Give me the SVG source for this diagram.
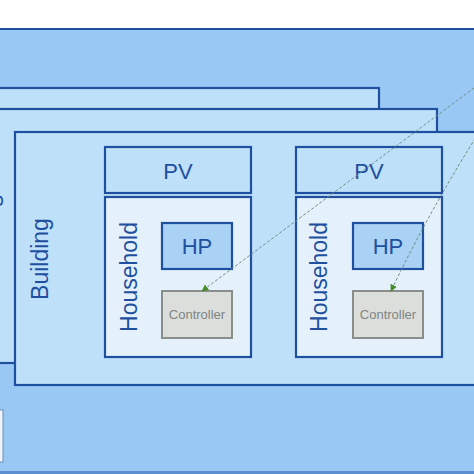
<svg xmlns="http://www.w3.org/2000/svg" width="474" height="474" viewBox="0 0 474 474">
<defs>
<style>
.frame{stroke:#1f4f9f;stroke-width:2.2}
.lay{fill:#bee0f8}
.hh{fill:#e4f1fb}
.hp{fill:#a9d2f5}
.ctl{fill:#dcdedc;stroke:#8a8e8a;stroke-width:2}
.lbl{font-family:"Liberation Sans",Arial,sans-serif;fill:#1f4f9f}
.ctxt{font-family:"Liberation Sans",Arial,sans-serif;fill:#7f8583;font-size:13px;text-anchor:middle}
.link{fill:none;stroke:#6f9080;stroke-width:1;stroke-dasharray:3 2}
</style>
<marker id="ah" viewBox="0 0 10 10" refX="9" refY="5" markerWidth="7" markerHeight="7" orient="auto" markerUnits="userSpaceOnUse">
<path d="M0,0 L10,5 L0,10 Z" fill="#4a8a2a"/>
</marker>
</defs>
<rect x="0" y="0" width="474" height="474" fill="#ffffff"/>
<g id="outer">
<rect x="-10" y="29" width="500" height="443" fill="#9ac8f5" stroke="#1f4f9f" stroke-width="2"/>
<line x1="0" y1="472.5" x2="474" y2="472.5" stroke="#5a8fd2" stroke-width="3"/>
</g>
<g id="white-box">
<rect x="-10" y="410" width="13" height="52" fill="#eef6fd" stroke="#6e8fb0" stroke-width="1"/>
</g>
<g id="layer1">
<rect class="frame lay" x="-10" y="88" width="389" height="260"/>
</g>
<g id="layer2">
<rect class="frame lay" x="-10" y="109" width="447" height="254"/>
<text class="lbl" font-size="23" text-anchor="end" transform="translate(3,195) rotate(-90)">s</text>
</g>
<g id="building">
<rect class="frame lay" x="15" y="132" width="480" height="253"/>
<text class="lbl" font-size="23" text-anchor="middle" transform="translate(48,259) rotate(-90)">Building</text>
</g>
<g id="pv1">
<rect class="frame lay" x="105" y="147" width="146" height="46"/>
<text class="lbl" font-size="22" text-anchor="middle" x="178" y="179">PV</text>
</g>
<g id="pv2">
<rect class="frame lay" x="296" y="147" width="146" height="46"/>
<text class="lbl" font-size="22" text-anchor="middle" x="369" y="179">PV</text>
</g>
<g id="household1">
<rect class="frame hh" x="105" y="197" width="146" height="160"/>
<text class="lbl" font-size="23" text-anchor="middle" transform="translate(137,277) rotate(-90)">Household</text>
</g>
<g id="household2">
<rect class="frame hh" x="296" y="197" width="146" height="160"/>
<text class="lbl" font-size="23" text-anchor="middle" transform="translate(327,277) rotate(-90)">Household</text>
</g>
<g id="hp1">
<rect class="frame hp" x="162" y="223" width="70" height="46"/>
<text class="lbl" font-size="22" text-anchor="middle" x="197" y="254">HP</text>
</g>
<g id="hp2">
<rect class="frame hp" x="353" y="223" width="70" height="46"/>
<text class="lbl" font-size="22" text-anchor="middle" x="388" y="254">HP</text>
</g>
<g id="controller1">
<rect class="ctl" x="162" y="291" width="70" height="47"/>
<text class="ctxt" x="197" y="319">Controller</text>
</g>
<g id="controller2">
<rect class="ctl" x="353" y="291" width="70" height="47"/>
<text class="ctxt" x="388" y="319">Controller</text>
</g>
<g id="connectors">
<path class="link" d="M478,85 L202,291" marker-end="url(#ah)"/>
<path class="link" d="M478,134 C455,170 420,230 391,291" marker-end="url(#ah)"/>
</g>
</svg>
